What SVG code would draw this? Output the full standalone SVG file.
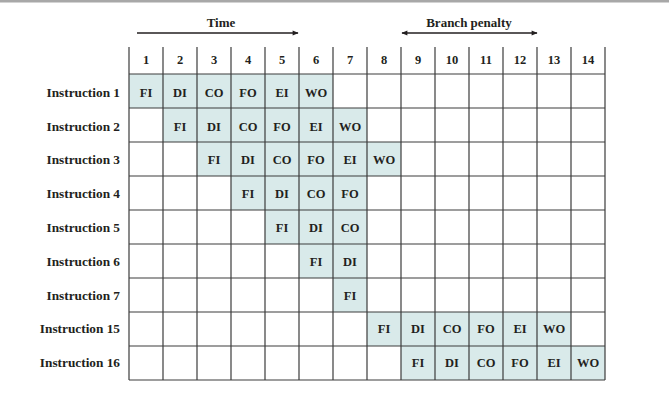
<svg xmlns="http://www.w3.org/2000/svg" width="669" height="409" viewBox="0 0 669 409">
<style>
text{font-family:"Liberation Serif","Times New Roman",serif;font-weight:bold;fill:#231f20}
.lbl{font-size:13.3px;text-anchor:end}
.hd{font-size:12.5px;text-anchor:middle}
.c{font-size:12.5px;text-anchor:middle}
.ttl{font-size:13px;text-anchor:middle}
.sh{fill:#d9eaea}
.g{stroke:#3c3c3c;stroke-width:1.2;fill:none}
.ar{stroke:#231f20;stroke-width:1.3;fill:none}
</style>
<defs>
<marker id="ah" viewBox="0 0 10 10" refX="9" refY="5" markerWidth="8" markerHeight="6" orient="auto-start-reverse" markerUnits="userSpaceOnUse">
<path d="M0,1 L10,5 L0,9 z" fill="#231f20"/>
</marker>
</defs>
<rect x="0" y="0" width="669" height="409" fill="#ffffff"/>
<rect x="0" y="0" width="669" height="2.5" fill="#a8a8a8"/>

<g id="time">
<text class="ttl" x="221" y="27">Time</text>
</g>
<g id="penalty">
<text class="ttl" x="469" y="27">Branch penalty</text>
</g>
<g id="connectors">
<line class="ar" x1="137" y1="33" x2="298" y2="33" marker-end="url(#ah)"/>
<line class="ar" x1="402" y1="33" x2="537" y2="33" marker-start="url(#ah)" marker-end="url(#ah)"/>
</g>

<g id="shading">
<rect class="sh" x="129" y="74" width="204" height="34"/>
<rect class="sh" x="163" y="108" width="204" height="34"/>
<rect class="sh" x="197" y="142" width="204" height="34"/>
<rect class="sh" x="231" y="176" width="136" height="34"/>
<rect class="sh" x="265" y="210" width="102" height="34"/>
<rect class="sh" x="299" y="244" width="68" height="34"/>
<rect class="sh" x="333" y="278" width="34" height="34"/>
<rect class="sh" x="367" y="312" width="204" height="34"/>
<rect class="sh" x="401" y="346" width="204" height="34"/>
</g>

<g id="grid" class="g">
<path d="M129,47V380 M163,47V380 M197,47V380 M231,47V380 M265,47V380 M299,47V380 M333,47V380 M367,47V380 M401,47V380 M435,47V380 M469,47V380 M503,47V380 M537,47V380 M571,47V380 M605,47V380"/>
<path d="M129,74H605 M129,108H605 M129,142H605 M129,176H605 M129,210H605 M129,244H605 M129,278H605 M129,312H605 M129,346H605 M129,380H605"/>
</g>

<g id="header">
<text class="hd" x="146" y="64">1</text>
<text class="hd" x="180" y="64">2</text>
<text class="hd" x="214" y="64">3</text>
<text class="hd" x="248" y="64">4</text>
<text class="hd" x="282" y="64">5</text>
<text class="hd" x="316" y="64">6</text>
<text class="hd" x="350" y="64">7</text>
<text class="hd" x="384" y="64">8</text>
<text class="hd" x="418" y="64">9</text>
<text class="hd" x="452" y="64">10</text>
<text class="hd" x="486" y="64">11</text>
<text class="hd" x="520" y="64">12</text>
<text class="hd" x="554" y="64">13</text>
<text class="hd" x="588" y="64">14</text>
</g>

<g id="inst1">
<text class="lbl" x="120" y="97">Instruction 1</text>
<text class="c" x="146" y="97">FI</text><text class="c" x="180" y="97">DI</text><text class="c" x="214" y="97">CO</text><text class="c" x="248" y="97">FO</text><text class="c" x="282" y="97">EI</text><text class="c" x="316" y="97">WO</text>
</g>
<g id="inst2">
<text class="lbl" x="120" y="131">Instruction 2</text>
<text class="c" x="180" y="131">FI</text><text class="c" x="214" y="131">DI</text><text class="c" x="248" y="131">CO</text><text class="c" x="282" y="131">FO</text><text class="c" x="316" y="131">EI</text><text class="c" x="350" y="131">WO</text>
</g>
<g id="inst3">
<text class="lbl" x="120" y="164">Instruction 3</text>
<text class="c" x="214" y="164">FI</text><text class="c" x="248" y="164">DI</text><text class="c" x="282" y="164">CO</text><text class="c" x="316" y="164">FO</text><text class="c" x="350" y="164">EI</text><text class="c" x="384" y="164">WO</text>
</g>
<g id="inst4">
<text class="lbl" x="120" y="198">Instruction 4</text>
<text class="c" x="248" y="198">FI</text><text class="c" x="282" y="198">DI</text><text class="c" x="316" y="198">CO</text><text class="c" x="350" y="198">FO</text>
</g>
<g id="inst5">
<text class="lbl" x="120" y="232">Instruction 5</text>
<text class="c" x="282" y="232">FI</text><text class="c" x="316" y="232">DI</text><text class="c" x="350" y="232">CO</text>
</g>
<g id="inst6">
<text class="lbl" x="120" y="266">Instruction 6</text>
<text class="c" x="316" y="266">FI</text><text class="c" x="350" y="266">DI</text>
</g>
<g id="inst7">
<text class="lbl" x="120" y="300">Instruction 7</text>
<text class="c" x="350" y="300">FI</text>
</g>
<g id="inst15">
<text class="lbl" x="120" y="333">Instruction 15</text>
<text class="c" x="384" y="333">FI</text><text class="c" x="418" y="333">DI</text><text class="c" x="452" y="333">CO</text><text class="c" x="486" y="333">FO</text><text class="c" x="520" y="333">EI</text><text class="c" x="554" y="333">WO</text>
</g>
<g id="inst16">
<text class="lbl" x="120" y="367">Instruction 16</text>
<text class="c" x="418" y="367">FI</text><text class="c" x="452" y="367">DI</text><text class="c" x="486" y="367">CO</text><text class="c" x="520" y="367">FO</text><text class="c" x="554" y="367">EI</text><text class="c" x="588" y="367">WO</text>
</g>
</svg>
